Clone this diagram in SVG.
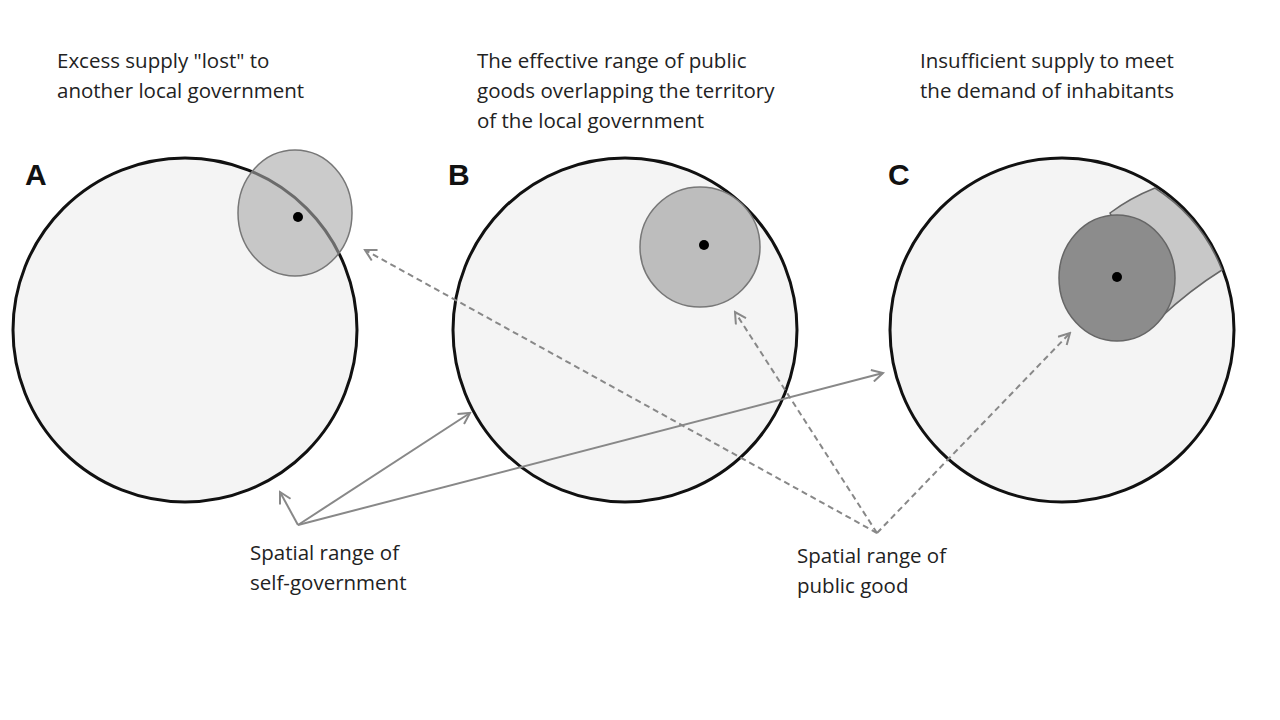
<svg xmlns="http://www.w3.org/2000/svg" width="1280" height="720" viewBox="0 0 1280 720">
<style>
text{font-family:"Open Sans","Liberation Sans",sans-serif;font-size:20.5px;fill:#222}
.big{fill:#f4f4f4;stroke:#111;stroke-width:3}
.lbl{font-family:"Liberation Sans",Arial,sans-serif;font-weight:bold;font-size:30px;fill:#111}
.s{stroke:#888;stroke-width:2;fill:none;marker-end:url(#a)}
.d{stroke:#888;stroke-width:2;fill:none;stroke-dasharray:6,4;marker-end:url(#a)}
</style>
<defs><marker id="a" markerWidth="14" markerHeight="14" refX="12" refY="7" orient="auto" markerUnits="userSpaceOnUse"><path d="M1,1 L12,7 L1,13" fill="none" stroke="#888" stroke-width="2"/></marker></defs>
<rect width="1280" height="720" fill="#fff"/>
<text x="57" y="68">Excess supply "lost" to</text>
<text x="57" y="98">another local government</text>
<text x="477" y="68">The effective range of public</text>
<text x="477" y="98">goods overlapping the territory</text>
<text x="477" y="128">of the local government</text>
<text x="920" y="68">Insufficient supply to meet</text>
<text x="920" y="98">the demand of inhabitants</text>
<g id="A"><circle class="big" cx="185" cy="330" r="172"/><ellipse cx="295" cy="213" rx="57" ry="63" fill="#a8a8a8" fill-opacity="0.6" stroke="#777" stroke-width="1.5"/><circle cx="298" cy="217" r="5" fill="#000"/><text class="lbl" x="25" y="185">A</text></g>
<g id="B"><circle class="big" cx="625" cy="330" r="172"/><circle cx="700" cy="247" r="60" fill="#bdbdbd" stroke="#777" stroke-width="1.5"/><circle cx="704" cy="245" r="5" fill="#000"/><text class="lbl" x="448" y="185">B</text></g>
<g id="C"><circle class="big" cx="1062" cy="330" r="172"/><path d="M1110,213 Q1130,198 1155,188 A172,172 0 0 1 1222,270 Q1190,290 1160,318 Z" fill="#c8c8c8" stroke="#666" stroke-width="1.5"/><ellipse cx="1117" cy="278" rx="58" ry="63" fill="#8c8c8c" stroke="#666" stroke-width="1.5"/><circle cx="1117" cy="277" r="5" fill="#000"/><text class="lbl" x="888" y="185">C</text></g>
<g id="connectors">
<path class="s" d="M298,525 L280,492"/><path class="s" d="M298,525 L470,413"/><path class="s" d="M298,525 L883,373"/>
<path class="d" d="M877,533 L365,250"/><path class="d" d="M877,533 L735,312"/><path class="d" d="M877,533 L1070,333"/>
</g>
<text x="250" y="560">Spatial range of</text>
<text x="250" y="590">self-government</text>
<text x="797" y="563">Spatial range of</text>
<text x="797" y="593">public good</text>
</svg>
